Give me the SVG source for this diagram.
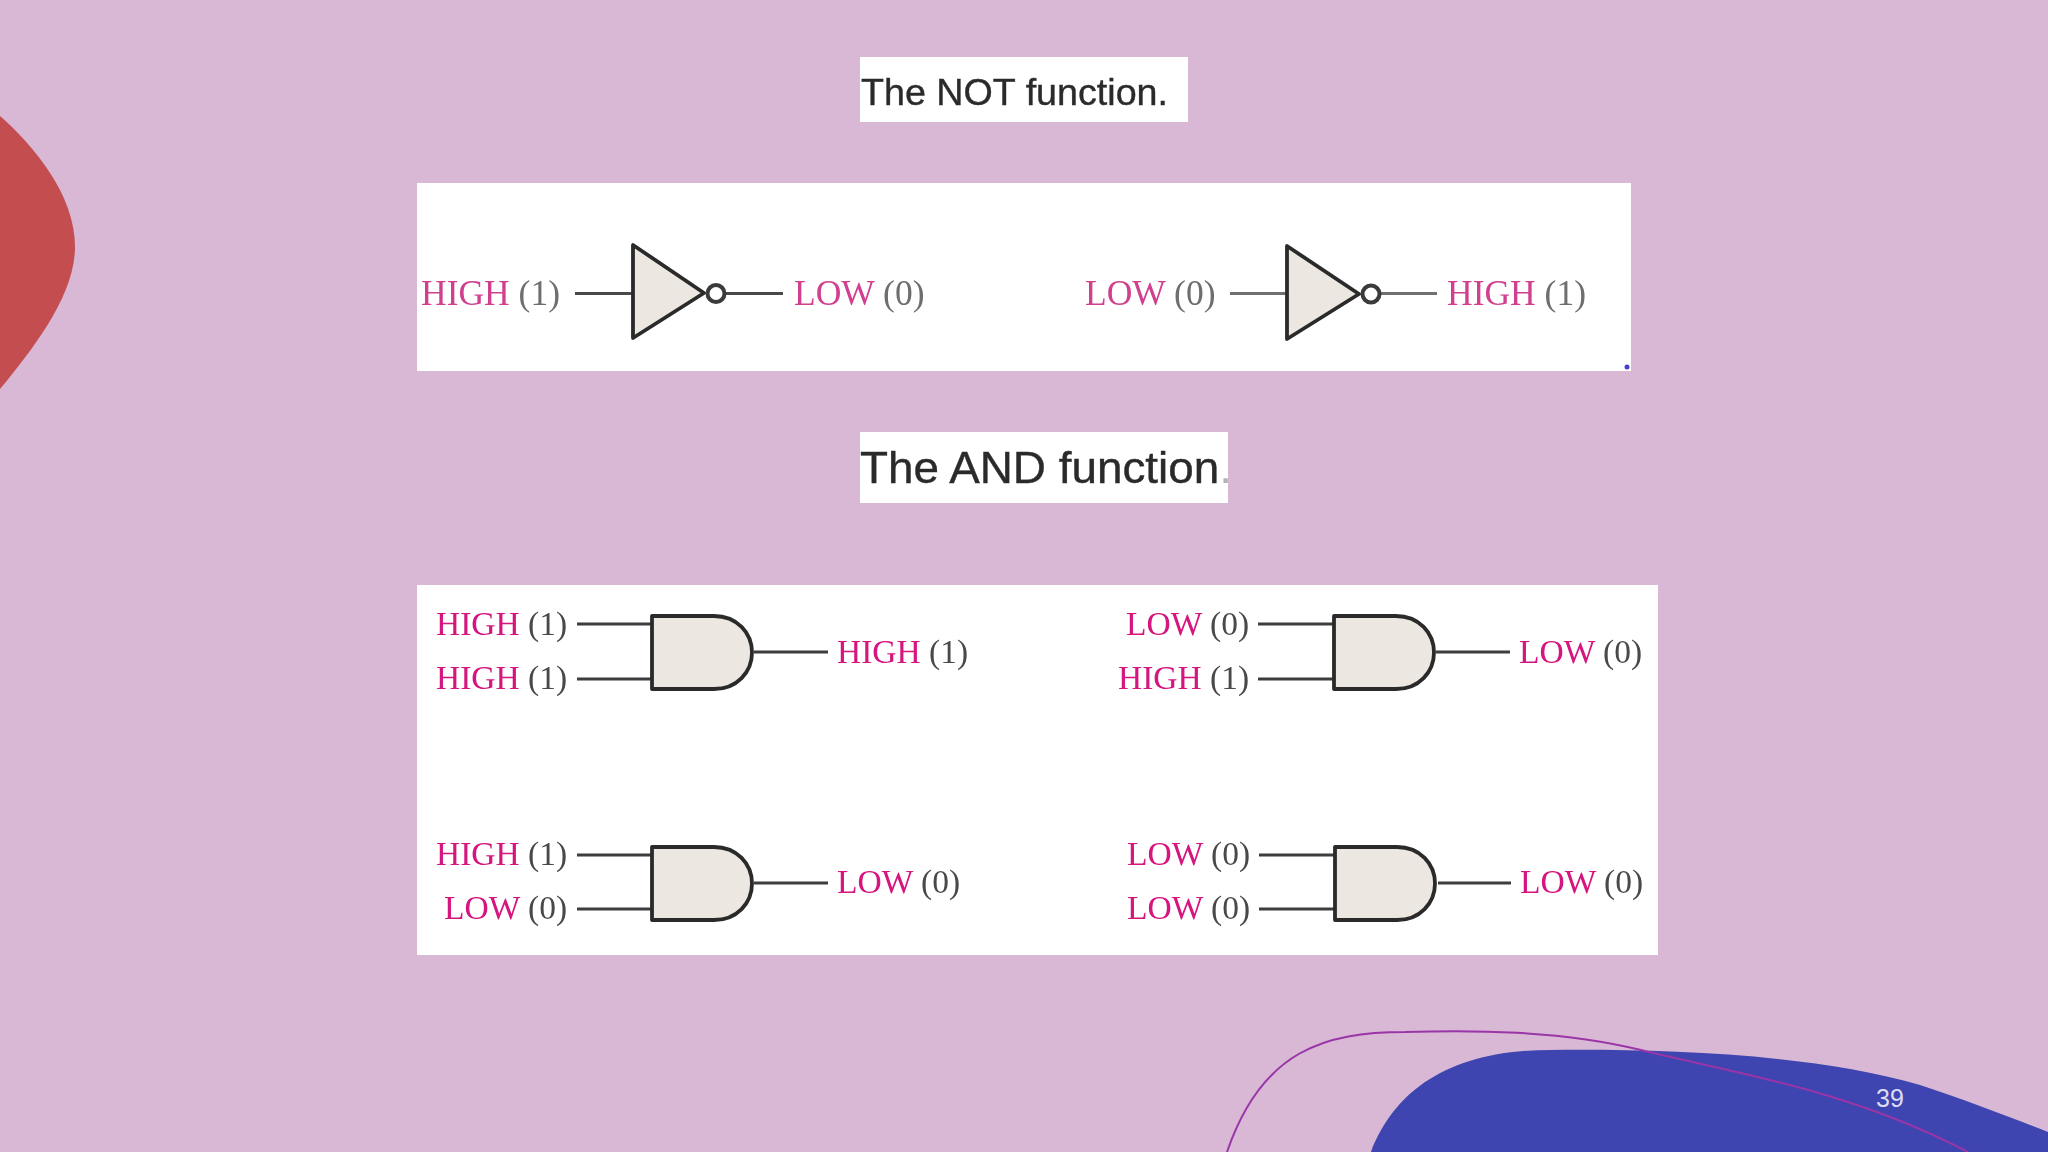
<svg xmlns="http://www.w3.org/2000/svg" width="2048" height="1152" viewBox="0 0 2048 1152">
<style>
.panel{fill:#ffffff}
.g{fill:#ece8e1;stroke:#2b2b2b;stroke-width:3.800;stroke-linejoin:round}
.i{fill:#ffffff;stroke:#3a3a3a;stroke-width:4}
.w{stroke:#3d3d3d;stroke-width:3;fill:none}
.wn{stroke:#484848;stroke-width:4;fill:none}
.wn2{stroke:#707070;stroke-width:5.500;fill:none}
.l{font-family:"Liberation Serif","Times New Roman",serif;font-size:33.5px;fill:#484848}
.ln{font-family:"Liberation Serif","Times New Roman",serif;font-size:35.5px;fill:#6e6e6e}
.m{fill:#d6127f}
.mn{fill:#d0408f}
.t{font-family:"Liberation Sans",Arial,sans-serif;fill:#2c2c2c;stroke:#2c2c2c;stroke-width:0.400}
</style>
<defs>
<filter id="soft" x="-5%" y="-5%" width="110%" height="110%"><feGaussianBlur stdDeviation="0.7"/></filter>
<filter id="softer" x="-5%" y="-5%" width="110%" height="110%"><feGaussianBlur stdDeviation="0.35"/></filter>
<path id="and" d="M0 0H62C85 0 100 17 100 36.500C100 56 85 73 62 73H0Z"/>
</defs>
<rect width="2048" height="1152" fill="#d8b8d4"/>
<path id="red-blob" d="M0 116C34 146 75 195 75 247C75 296 32 350 0 389Z" fill="#c44d50"/>
<path id="blue-blob" d="M1371 1152C1395 1090 1450 1050 1551 1050C1660 1049 1810 1053 1920 1085C1965 1100 2005 1115 2048 1132V1152Z" fill="#3f45b0"/>
<path id="curve" d="M1227 1152C1262 1050 1325 1032 1405 1032C1470 1030 1560 1030 1641 1050C1730 1072 1850 1090 1968 1152" fill="none" stroke="#9a35a8" stroke-width="2"/>
<text id="page-number" x="1876" y="1107" font-family="'Liberation Sans',Arial,sans-serif" font-size="25" fill="#dcdcf2">39</text>

<g id="title-not"><rect class="panel" x="860" y="57" width="328" height="65"/>
<text class="t" x="861" y="105" font-size="37" textLength="307" lengthAdjust="spacingAndGlyphs" filter="url(#softer)">The NOT function.</text></g>
<g id="title-and"><rect class="panel" x="860" y="432" width="368" height="71"/>
<text class="t" x="860" y="483" font-size="45" textLength="372" lengthAdjust="spacingAndGlyphs" filter="url(#softer)">The AND function<tspan fill-opacity="0.35" stroke="none">.</tspan></text></g>

<rect id="not-panel" class="panel" x="417" y="183" width="1214" height="188"/>
<rect id="and-panel" class="panel" x="417" y="585" width="1241" height="370"/>
<circle id="mark" cx="1627" cy="367" r="2.500" fill="#4a3fc8"/>

<g id="connectors">
<g filter="url(#soft)">
<path class="wn" d="M575 293H633"/><path class="wn" d="M724 293H783"/>
<path class="wn2" d="M1230 294H1288"/><path class="wn2" d="M1380 294H1437"/>
</g>
<path class="w" d="M577 624H652"/><path class="w" d="M577 679H652"/><path class="w" d="M754 652H828"/>
<path class="w" d="M577 855H652"/><path class="w" d="M577 909H652"/><path class="w" d="M754 883H828"/>
<path class="w" d="M1258 624H1334"/><path class="w" d="M1258 679H1334"/><path class="w" d="M1436 652H1510"/>
<path class="w" d="M1259 855H1335"/><path class="w" d="M1259 909H1335"/><path class="w" d="M1438 883H1511"/>
</g>

<g id="not-gate-1" filter="url(#soft)">
<path class="g" d="M633 245V338L704 293Z"/><circle class="i" cx="716" cy="293.500" r="8.500"/>
<text class="ln" x="421" y="305"><tspan class="mn">HIGH</tspan> (1)</text>
<text class="ln" x="794" y="305"><tspan class="mn">LOW</tspan> (0)</text>
</g>
<g id="not-gate-2" filter="url(#soft)">
<path class="g" d="M1287 246V339L1359 294Z"/><circle class="i" cx="1371" cy="294" r="8.500"/>
<text class="ln" x="1085" y="305"><tspan class="mn">LOW</tspan> (0)</text>
<text class="ln" x="1447" y="305"><tspan class="mn">HIGH</tspan> (1)</text>
</g>

<g id="and-gate-1" filter="url(#softer)">
<use href="#and" class="g" x="652" y="616"/>
<text class="l" x="436" y="635"><tspan class="m">HIGH</tspan> (1)</text>
<text class="l" x="436" y="689"><tspan class="m">HIGH</tspan> (1)</text>
<text class="l" x="837" y="663"><tspan class="m">HIGH</tspan> (1)</text>
</g>
<g id="and-gate-2" filter="url(#softer)">
<use href="#and" class="g" x="1334" y="616"/>
<text class="l" x="1126" y="635"><tspan class="m">LOW</tspan> (0)</text>
<text class="l" x="1118" y="689"><tspan class="m">HIGH</tspan> (1)</text>
<text class="l" x="1519" y="663"><tspan class="m">LOW</tspan> (0)</text>
</g>
<g id="and-gate-3" filter="url(#softer)">
<use href="#and" class="g" x="652" y="847"/>
<text class="l" x="436" y="865"><tspan class="m">HIGH</tspan> (1)</text>
<text class="l" x="444" y="919"><tspan class="m">LOW</tspan> (0)</text>
<text class="l" x="837" y="893"><tspan class="m">LOW</tspan> (0)</text>
</g>
<g id="and-gate-4" filter="url(#softer)">
<use href="#and" class="g" x="1335" y="847"/>
<text class="l" x="1127" y="865"><tspan class="m">LOW</tspan> (0)</text>
<text class="l" x="1127" y="919"><tspan class="m">LOW</tspan> (0)</text>
<text class="l" x="1520" y="893"><tspan class="m">LOW</tspan> (0)</text>
</g>
</svg>
